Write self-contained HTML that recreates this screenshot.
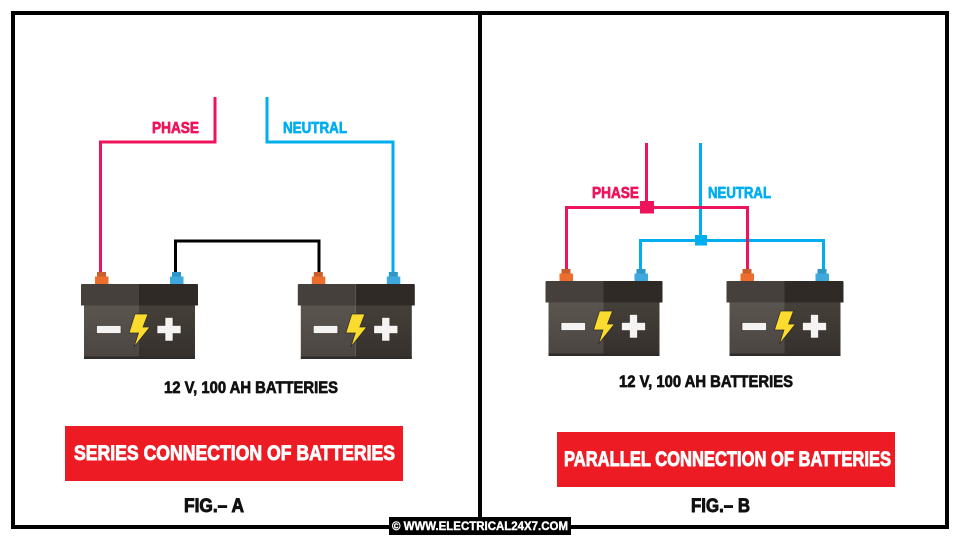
<!DOCTYPE html>
<html><head><meta charset="utf-8"><style>
html,body{margin:0;padding:0;background:#fff;width:960px;height:540px;overflow:hidden}
svg{display:block}
text{font-family:"Liberation Sans",sans-serif;font-weight:bold}
</style></head><body>
<svg width="960" height="540" viewBox="0 0 960 540" xmlns="http://www.w3.org/2000/svg">
<defs>
<linearGradient id="bl" x1="0" y1="0" x2="0" y2="1"><stop offset="0" stop-color="#5b5550"/><stop offset="1" stop-color="#4a4541"/></linearGradient>
<linearGradient id="br" x1="0" y1="0" x2="0" y2="1"><stop offset="0" stop-color="#454039"/><stop offset="1" stop-color="#35302d"/></linearGradient>
<g id="bat">
<path d="M84 305H139V359H86Q84 359 84 357Z" fill="url(#bl)"/>
<path d="M139 305H195V357Q195 359 193 359H139Z" fill="url(#br)"/>
<rect x="84" y="356.500" width="111" height="2.500" fill="#2f2b28"/>
<path d="M81 285Q81 284 82 284H139V305.500H81Z" fill="#45403c"/>
<path d="M139 284H197Q198 284 198 285V305.500H139Z" fill="#2f2a26"/>
<rect x="97" y="272" width="9" height="6" fill="#c85f2c"/>
<rect x="95" y="276.500" width="13.500" height="7.500" fill="#ec6e2c"/>
<rect x="172" y="272" width="9" height="6" fill="#2f96c8"/>
<rect x="170" y="276.500" width="13.500" height="7.500" fill="#3fa9dd"/>
<rect x="96.500" y="325.500" width="24.500" height="8" fill="#f4f3f1" stroke="#2b2724" stroke-width=".6"/>
<path d="M165 317.500H173V325.500H181V333.500H173V341H165V333.500H157V325.500H165Z" fill="#f4f3f1" stroke="#2b2724" stroke-width=".6"/>
<path d="M135 314H148L143 327H150L134 347L138.500 333H129Z" fill="#fbdc2e" stroke="#2f2a27" stroke-width=".7"/>
</g>
</defs>

<rect x="13" y="13" width="934" height="514" fill="#fff" stroke="#000" stroke-width="4"/>
<rect x="478" y="13" width="4" height="510" fill="#000"/>

<!-- Fig A wires -->
<path d="M100.500 273V142H215V97" fill="none" stroke="#ee145b" stroke-width="3"/>
<path d="M267 97V142H393V273" fill="none" stroke="#00aeef" stroke-width="3"/>
<path d="M175.500 273V241H319V273" fill="none" stroke="#000" stroke-width="3"/>
<use href="#bat"/>
<use href="#bat" transform="translate(216.800 0)"/>

<!-- Fig B wires -->
<path d="M700.500 143V240.500M640.500 272V240.500H823.500V272" fill="none" stroke="#00aeef" stroke-width="3"/>
<rect x="695" y="235" width="12" height="10.500" fill="#00aeef"/>
<path d="M646.500 143V207.500M566.500 270V207.500H747.500V270" fill="none" stroke="#ee145b" stroke-width="3"/>
<rect x="640" y="201" width="14" height="12.500" fill="#ee145b"/>
<use href="#bat" transform="translate(464.500 -3)"/>
<use href="#bat" transform="translate(645.500 -3)"/>

<g stroke-width=".7" stroke-linejoin="round">
<text x="152" y="133" font-size="16" fill="#ee145b" stroke="#ee145b" textLength="47" lengthAdjust="spacingAndGlyphs">PHASE</text>
<text x="283" y="133" font-size="16" fill="#00aeef" stroke="#00aeef" textLength="64" lengthAdjust="spacingAndGlyphs">NEUTRAL</text>
<text x="592" y="198" font-size="16" fill="#ee145b" stroke="#ee145b" textLength="47" lengthAdjust="spacingAndGlyphs">PHASE</text>
<text x="708" y="198" font-size="16" fill="#00aeef" stroke="#00aeef" textLength="63" lengthAdjust="spacingAndGlyphs">NEUTRAL</text>

<text x="164" y="393" font-size="16.500" fill="#111" stroke="#111" textLength="174" lengthAdjust="spacingAndGlyphs">12 V, 100 AH BATTERIES</text>
<text x="619" y="387" font-size="16.500" fill="#111" stroke="#111" textLength="174" lengthAdjust="spacingAndGlyphs">12 V, 100 AH BATTERIES</text>
</g>

<rect x="65" y="426" width="338" height="55" fill="#ed1c24"/>
<text x="74" y="460" font-size="21" fill="#fff" stroke="#fff" stroke-width=".9" textLength="321" lengthAdjust="spacingAndGlyphs">SERIES CONNECTION OF BATTERIES</text>
<rect x="557" y="432" width="338" height="55" fill="#ed1c24"/>
<text x="564" y="466" font-size="21" fill="#fff" stroke="#fff" stroke-width=".9" textLength="327" lengthAdjust="spacingAndGlyphs">PARALLEL CONNECTION OF BATTERIES</text>

<text x="184" y="512" font-size="19" fill="#111" stroke="#111" stroke-width=".9" textLength="60" lengthAdjust="spacingAndGlyphs">FIG.– A</text>
<text x="691" y="512" font-size="19" fill="#111" stroke="#111" stroke-width=".9" textLength="59" lengthAdjust="spacingAndGlyphs">FIG.– B</text>

<rect x="389" y="517" width="182" height="18" fill="#000"/>
<text x="392" y="530" font-size="12" fill="#fff" stroke="#fff" stroke-width=".4" textLength="176" lengthAdjust="spacingAndGlyphs">© WWW.ELECTRICAL24X7.COM</text>
</svg>
</body></html>
